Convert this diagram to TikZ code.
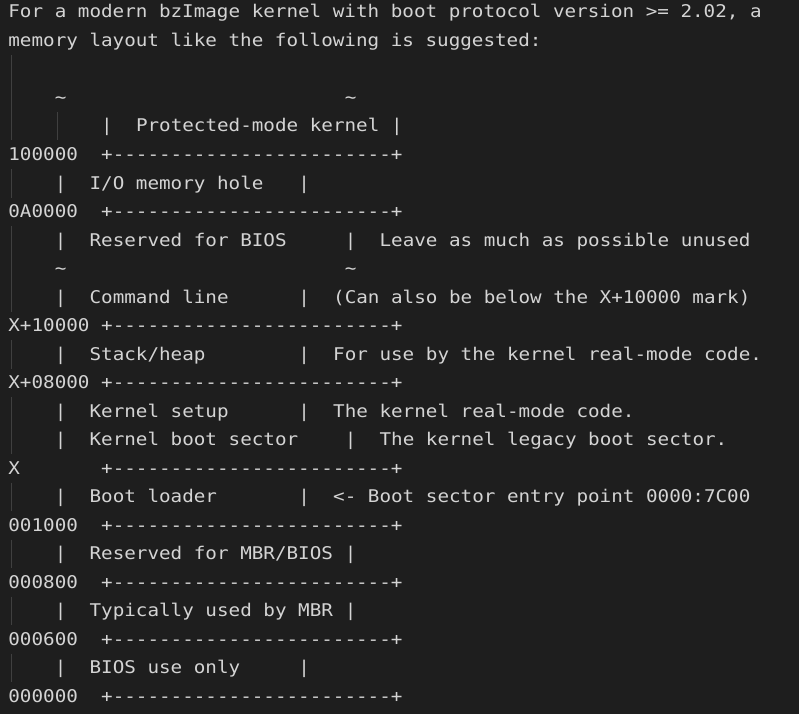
\documentclass[tikz,border=0pt]{standalone}
\usepackage{fontspec}
\setmonofont[FakeStretch=1.1]{DejaVu Sans Mono}
\definecolor{bg}{HTML}{1E1E1E}
\definecolor{fg}{HTML}{D4D4D4}
\definecolor{guidec}{HTML}{404040}
\tikzset{
  txt/.style={anchor=base west, inner sep=0pt, outer sep=0pt, text=fg,
    font=\ttfamily\fontsize{17.5}{20}\selectfont},
  guide/.style={draw=guidec, line width=1pt}
}
\newcommand{\seg}[3]{\node[txt] (l#1c#2) at ({8.4+#2*11.6},{18+(#1-1)*28.5}) {#3};}
\newcommand{\gline}[3]{\draw[guide] ({#1},{18+(#2-1)*28.5-20}) -- ({#1},{18+(#3-1)*28.5+8.5});}
\begin{document}
\begin{tikzpicture}[x=1pt,y=-1pt]
\fill[bg] (0,0) rectangle (799,714);
\useasboundingbox (0,0) rectangle (799,714);
% indent guides
\gline{11}{3}{5}
\gline{57}{5}{5}
\gline{11}{7}{7}
\gline{11}{9}{11}
\gline{11}{13}{13}
\gline{11}{15}{16}
\gline{11}{18}{18}
\gline{11}{20}{20}
\gline{11}{22}{22}
\gline{11}{24}{24}
% text
\seg{1}{0}{For a modern bzImage kernel with boot protocol version >= 2.02, a}
\seg{2}{0}{memory layout like the following is suggested:}
\seg{4}{4}{\textasciitilde}
\seg{4}{29}{\textasciitilde}
\seg{5}{8}{|}
\seg{5}{11}{Protected-mode kernel}
\seg{5}{33}{|}
\seg{6}{0}{100000}
\seg{6}{8}{+------------------------+}
\seg{7}{4}{|}
\seg{7}{7}{I/O memory hole}
\seg{7}{25}{|}
\seg{8}{0}{0A0000}
\seg{8}{8}{+------------------------+}
\seg{9}{4}{|}
\seg{9}{7}{Reserved for BIOS}
\seg{9}{29}{|}
\seg{9}{32}{Leave as much as possible unused}
\seg{10}{4}{\textasciitilde}
\seg{10}{29}{\textasciitilde}
\seg{11}{4}{|}
\seg{11}{7}{Command line}
\seg{11}{25}{|}
\seg{11}{28}{(Can also be below the X+10000 mark)}
\seg{12}{0}{X+10000}
\seg{12}{8}{+------------------------+}
\seg{13}{4}{|}
\seg{13}{7}{Stack/heap}
\seg{13}{25}{|}
\seg{13}{28}{For use by the kernel real-mode code.}
\seg{14}{0}{X+08000}
\seg{14}{8}{+------------------------+}
\seg{15}{4}{|}
\seg{15}{7}{Kernel setup}
\seg{15}{25}{|}
\seg{15}{28}{The kernel real-mode code.}
\seg{16}{4}{|}
\seg{16}{7}{Kernel boot sector}
\seg{16}{29}{|}
\seg{16}{32}{The kernel legacy boot sector.}
\seg{17}{0}{X}
\seg{17}{8}{+------------------------+}
\seg{18}{4}{|}
\seg{18}{7}{Boot loader}
\seg{18}{25}{|}
\seg{18}{28}{<- Boot sector entry point 0000:7C00}
\seg{19}{0}{001000}
\seg{19}{8}{+------------------------+}
\seg{20}{4}{|}
\seg{20}{7}{Reserved for MBR/BIOS}
\seg{20}{29}{|}
\seg{21}{0}{000800}
\seg{21}{8}{+------------------------+}
\seg{22}{4}{|}
\seg{22}{7}{Typically used by MBR}
\seg{22}{29}{|}
\seg{23}{0}{000600}
\seg{23}{8}{+------------------------+}
\seg{24}{4}{|}
\seg{24}{7}{BIOS use only}
\seg{24}{25}{|}
\seg{25}{0}{000000}
\seg{25}{8}{+------------------------+}
\end{tikzpicture}
\end{document}
